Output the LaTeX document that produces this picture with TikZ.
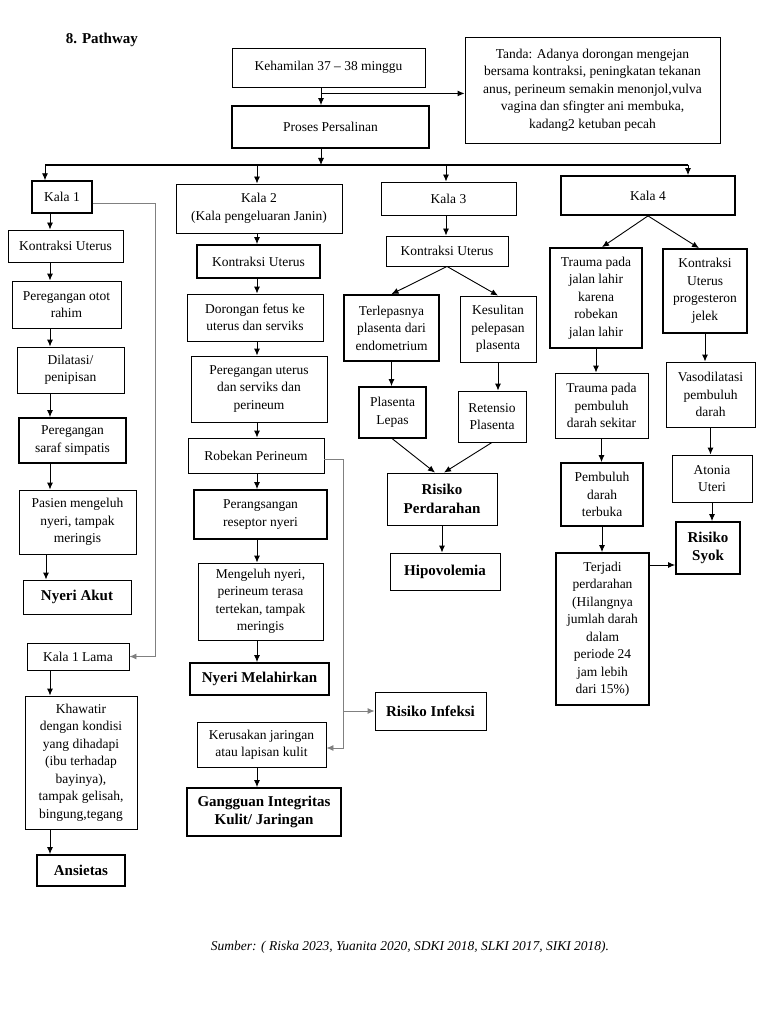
\documentclass[tikz,border=0pt]{standalone}
\usepackage{fontspec}
\setmainfont{Liberation Serif}
\usepackage{tikz}
\usetikzlibrary{arrows.meta}
\newcommand{\fs}{\fontsize{13.5}{17.5}\selectfont}
\newcommand{\fb}{\fontsize{15}{18.5}\selectfont\bfseries}

\tikzset{
  box/.style={draw,line width=0.9pt,align=center,inner sep=1pt,font=\fs},
  thk/.style={line width=1.8pt},
  bld/.style={font=\fb},
  gline/.style={draw=black!50,line width=0.9pt},
}

\begin{document}
\begin{tikzpicture}[x=1pt,y=-1pt,>={Latex[length=7pt,width=6pt]},line width=0.9pt]
   \useasboundingbox (0,0) rectangle (768,1024);
   \node[anchor=west,font=\fb] (title) at (62,40) {8. Pathway};
   % top
   \node[box,minimum width=193,minimum height=39] (hamil)  at (328.5, 67.5) {Kehamilan 37 -- 38 minggu};
   \node[box,minimum width=255,minimum height=106] (tanda) at (592.5, 90.0) {Tanda: Adanya dorongan mengejan\\bersama kontraksi, peningkatan tekanan\\anus, perineum semakin menonjol,vulva\\vagina dan sfingter ani membuka,\\kadang2 ketuban pecah};
   \node[box,thk,minimum width=197,minimum height=42] (proses) at (330.5,127.0) {Proses Persalinan};
   % kala 1
   \node[box,line width=1.4pt,minimum width=60,minimum height=32] (kala1) at ( 62.0,197.0) {Kala 1};
   \node[box,minimum width=115,minimum height=32]  (kontr1) at ( 65.5,246.0) {Kontraksi Uterus};
   \node[box,minimum width=109,minimum height=47]  (otot)   at ( 66.5,304.5) {Peregangan otot\\rahim};
   \node[box,minimum width=107,minimum height=46]  (dilat)  at ( 70.5,370.0) {Dilatasi/\\penipisan};
   \node[box,thk,minimum width=107,minimum height=45] (saraf) at ( 72.5,440.5) {Peregangan\\saraf simpatis};
   \node[box,minimum width=117,minimum height=64]  (pasien) at ( 77.5,522.0) {Pasien mengeluh\\nyeri, tampak\\meringis};
   \node[box,bld,minimum width=108,minimum height=34] (akut) at ( 77.0,597.0) {Nyeri Akut};
   \node[box,minimum width=102,minimum height=27]  (lama)   at ( 78.0,656.5) {Kala 1 Lama};
   \node[box,minimum width=112,minimum height=133] (khawa)  at ( 81.0,762.5) {Khawatir\\dengan kondisi\\yang dihadapi\\(ibu terhadap\\bayinya),\\tampak gelisah,\\bingung,tegang};
   \node[box,bld,thk,minimum width=88,minimum height=31] (ansi) at ( 81.0,870.5) {Ansietas};
   % kala 2
   \node[box,minimum width=166,minimum height=49]  (kala2)  at (259.0,208.5) {Kala 2\\(Kala pengeluaran Janin)};
   \node[box,thk,minimum width=123,minimum height=33] (kontr2) at (258.5,261.5) {Kontraksi Uterus};
   \node[box,minimum width=136,minimum height=47]  (dorong) at (255.0,317.5) {Dorongan fetus ke\\uterus dan serviks};
   \node[box,minimum width=136,minimum height=66]  (regang) at (259.0,389.0) {Peregangan uterus\\dan serviks dan\\perineum};
   \node[box,minimum width=136,minimum height=35]  (robek)  at (256.0,455.5) {Robekan Perineum};
   \node[box,thk,minimum width=133,minimum height=49] (rangsang) at (260.5,514.5) {Perangsangan\\reseptor nyeri};
   \node[box,minimum width=125,minimum height=77]  (keluh)  at (260.5,601.5) {Mengeluh nyeri,\\perineum terasa\\tertekan, tampak\\meringis};
   \node[box,bld,thk,minimum width=139,minimum height=32] (lahir) at (259.5,679.0) {Nyeri Melahirkan};
   \node[box,minimum width=129,minimum height=45]  (rusak)  at (261.5,744.5) {Kerusakan jaringan\\atau lapisan kulit};
   \node[box,bld,thk,minimum width=154,minimum height=48] (integ) at (264.0,812.0) {Gangguan Integritas\\Kulit/ Jaringan};
   \node[box,bld,minimum width=111,minimum height=38] (infeksi) at (430.5,711.0) {Risiko Infeksi};
   % kala 3
   \node[box,minimum width=135,minimum height=33]  (kala3)  at (448.5,198.5) {Kala 3};
   \node[box,minimum width=122,minimum height=30]  (kontr3) at (447.0,251.0) {Kontraksi Uterus};
   \node[box,thk,minimum width=95,minimum height=66] (lepas) at (391.5,328.0) {Terlepasnya\\plasenta dari\\endometrium};
   \node[box,minimum width=76,minimum height=66]   (sulit)  at (498.0,329.0) {Kesulitan\\pelepasan\\plasenta};
   \node[box,thk,minimum width=67,minimum height=51] (plep) at (392.5,412.5) {Plasenta\\Lepas};
   \node[box,minimum width=68,minimum height=51]   (reten)  at (492.0,416.5) {Retensio\\Plasenta};
   \node[box,bld,minimum width=110,minimum height=52] (rperd) at (442.0,499.0) {Risiko\\Perdarahan};
   \node[box,bld,minimum width=110,minimum height=37] (hipo)  at (445.0,571.5) {Hipovolemia};
   % kala 4
   \node[box,thk,minimum width=174,minimum height=39] (kala4) at (648.0,195.5) {Kala 4};
   \node[box,thk,minimum width=92,minimum height=100] (trauma) at (596.0,298.0) {Trauma pada\\jalan lahir\\karena\\robekan\\jalan lahir};
   \node[box,thk,minimum width=84,minimum height=84] (kontr4) at (705.0,291.0) {Kontraksi\\Uterus\\progesteron\\jelek};
   \node[box,minimum width=93,minimum height=65]   (tpemb)  at (601.5,405.5) {Trauma pada\\pembuluh\\darah sekitar};
   \node[box,minimum width=89,minimum height=65]   (vaso)   at (710.5,394.5) {Vasodilatasi\\pembuluh\\darah};
   \node[box,thk,minimum width=82,minimum height=63] (pemb) at (602.0,494.5) {Pembuluh\\darah\\terbuka};
   \node[box,minimum width=80,minimum height=47]   (atonia) at (712.0,478.5) {Atonia\\Uteri};
   \node[box,thk,minimum width=93,minimum height=152] (terjadi) at (602.5,629.0) {Terjadi\\perdarahan\\(Hilangnya\\jumlah darah\\dalam\\periode 24\\jam lebih\\dari 15\%)};
   \node[box,bld,thk,minimum width=64,minimum height=52] (syok) at (708.0,548.0) {Risiko\\Syok};
   \node[font=\fs\itshape] (sumber) at (410,947) {Sumber: ( Riska 2023, Yuanita 2020, SDKI 2018, SLKI 2017, SIKI 2018).};

   \coordinate (kt)   at ([xshift=-7.5,yshift=-6]hamil.south);
   \coordinate (barL) at ( 45,165);
   \coordinate (barR) at (688,165);
   \coordinate (c1)   at ( 50,0);
   \coordinate (c1b)  at ( 46,0);
   \coordinate (c2)   at (257,0);
   \coordinate (c3)   at (446,0);
   \coordinate (c4)   at (0,565);

   \draw[->] ([xshift=-7.5]hamil.south) -- ([xshift=-7.5]hamil.south |- proses.north);
   \draw[->] (kt) -- (kt -| tanda.west);
   \draw[->] ([xshift=-9.5]proses.south) -- ([xshift=-9.5]proses.south |- barL);
   \draw[line width=2.2pt] (barL) -- (barR);
   \draw[->] (barL) -- (barL |- kala1.north);
   \draw[->] (c2 |- barL) -- (c2 |- kala2.north);
   \draw[->] (c3 |- barL) -- (c3 |- kala3.north);
   \draw[->] (barR) -- (barR |- kala4.north);

   \draw[->] (kala1.south -| c1)  -- (kontr1.north -| c1);
   \draw[->] (kontr1.south -| c1) -- (otot.north -| c1);
   \draw[->] (otot.south -| c1)   -- (dilat.north -| c1);
   \draw[->] (dilat.south -| c1)  -- (saraf.north -| c1);
   \draw[->] (saraf.south -| c1)  -- (pasien.north -| c1);
   \draw[->] (pasien.south -| c1b) -- (akut.north -| c1b);
   \draw[->] (lama.south -| c1)   -- (khawa.north -| c1);
   \draw[->] (khawa.south -| c1)  -- (ansi.north -| c1);
   \draw[gline,->] ([yshift=-6]kala1.east) -- ++(63,0) |- (lama.east);

   \draw[->] (kala2.south -| c2)  -- (kontr2.north -| c2);
   \draw[->] (kontr2.south -| c2) -- (dorong.north -| c2);
   \draw[->] (dorong.south -| c2) -- (regang.north -| c2);
   \draw[->] (regang.south -| c2) -- (robek.north -| c2);
   \draw[->] (robek.south -| c2)  -- (rangsang.north -| c2);
   \draw[->] (rangsang.south -| c2) -- (keluh.north -| c2);
   \draw[->] (keluh.south -| c2)  -- (lahir.north -| c2);
   \draw[->] (rusak.south -| c2)  -- (integ.north -| c2);
   \coordinate (rv) at ([xshift=19,yshift=-4]robek.east);
   \draw[gline,->] ([yshift=-4]robek.east) -- (rv) |- ([yshift=-3.5]rusak.east);
   \draw[gline,->] (rv |- infeksi.west) -- (infeksi.west);

   \draw[->] (kala3.south -| c3) -- (kontr3.north -| c3);
   \draw[->] (kontr3.south) -- (lepas.north);
   \draw[->] (kontr3.south) -- (sulit.north);
   \draw[->] (lepas.south) -- (lepas.south |- plep.north);
   \draw[->] (sulit.south) -- (sulit.south |- reten.north);
   \draw[->] (plep.south)  -- ([xshift=-7]rperd.north);
   \draw[->] (reten.south) -- ([xshift=2]rperd.north);
   \draw[->] (rperd.south) -- (rperd.south |- hipo.north);

   \draw[->] (kala4.south) -- ([xshift=6]trauma.north);
   \draw[->] (kala4.south) -- ([xshift=-6]kontr4.north);
   \draw[->] (trauma.south) -- (trauma.south |- tpemb.north);
   \draw[->] (kontr4.south) -- (kontr4.south |- vaso.north);
   \draw[->] (tpemb.south)  -- (tpemb.south |- pemb.north);
   \draw[->] (vaso.south)   -- (vaso.south |- atonia.north);
   \draw[->] (pemb.south)   -- (pemb.south |- terjadi.north);
   \draw[->] (atonia.south) -- (atonia.south |- syok.north);
   \draw[->] (terjadi.east |- c4) -- (syok.west |- c4);
\end{tikzpicture}
\end{document}
